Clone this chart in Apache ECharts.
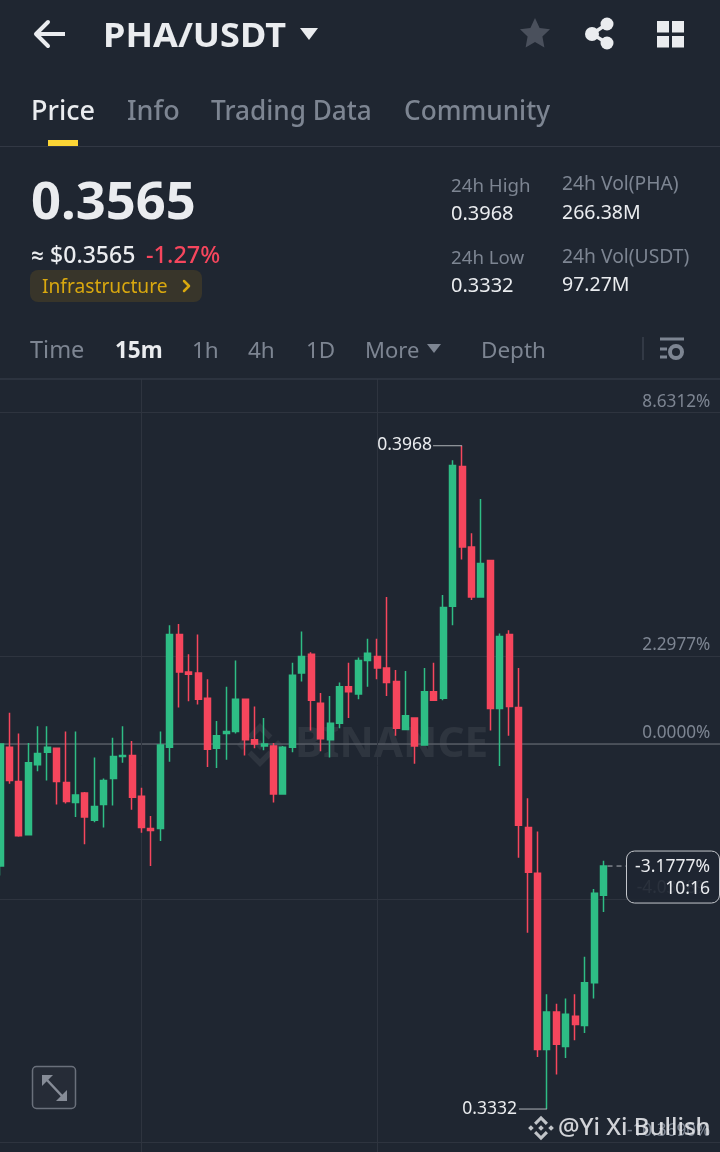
<!DOCTYPE html>
<html>
<head>
<meta charset="utf-8">
<style>
  html, body { margin: 0; padding: 0; background: #1f2631; }
  #chart { width: 720px; height: 1152px; }
</style>
<script src="https://cdn.jsdelivr.net/npm/echarts@6/dist/echarts.min.js"></script>
</head>
<body>
<div id="chart"></div>
<script>
// 15m candles
const opens = [.3565,.3679,.3646,.3595,.3662,.3674,.3678,.3645,.3626,.3635,.3609,.3624,.3649,.3670,.3671,.3632,.3601,.3601,.3679,.3787,.3751,.3750,.3726,.3678,.3692,.3694,.3725,.3686,.3680,.3680,.3634,.3679,.3750,.3768,.3721,.3686,.3702,.3737,.3730,.3762,.3766,.3755,.3742,.3696,.3707,.3681,.3732,.3726,.3814,.3948,.3871,.3823,.3858,.3716,.3787,.3717,.3602,.3558,.3389,.3425,.3392,.3421,.3412,.3453,.3537];
const closes = [.3682,.3647,.3594,.3664,.3673,.3679,.3646,.3627,.3633,.3612,.3622,.3647,.3670,.3671,.3631,.3602,.3599,.3681,.3787,.3751,.3749,.3725,.3677,.3690,.3694,.3725,.3686,.3682,.3682,.3634,.3679,.3748,.3766,.3724,.3687,.3702,.3737,.3732,.3762,.3769,.3755,.3741,.3697,.3709,.3680,.3732,.3724,.3813,.3949,.3871,.3823,.3855,.3716,.3785,.3718,.3604,.3559,.3389,.3425,.3394,.3423,.3413,.3453,.3539,.3565];
const lows = [.3556,.3644,.3593,.3595,.3656,.3647,.3624,.3625,.3612,.3586,.3607,.3602,.3623,.3664,.3619,.3597,.3565,.3589,.3665,.3717,.3723,.3720,.3660,.3659,.3667,.3692,.3671,.3678,.3676,.3626,.3634,.3674,.3742,.3695,.3675,.3669,.3697,.3707,.3725,.3737,.3744,.3728,.3690,.3696,.3663,.3681,.3724,.3724,.3796,.3859,.3820,.3823,.3695,.3661,.3690,.3573,.3501,.3382,.3332,.3365,.3381,.3398,.3405,.3438,.3521];
const highs = [.3682,.3712,.3692,.3683,.3699,.3699,.3678,.3694,.3694,.3636,.3669,.3649,.3688,.3699,.3685,.3640,.3613,.3694,.3796,.3797,.3768,.3787,.3744,.3704,.3737,.3762,.3725,.3718,.3707,.3683,.3680,.3760,.3790,.3770,.3731,.3728,.3741,.3760,.3765,.3783,.3783,.3823,.3753,.3752,.3707,.3755,.3760,.3825,.3954,.3968,.3884,.3917,.3858,.3788,.3791,.3755,.3630,.3598,.3442,.3433,.3438,.3442,.3478,.3543,.3570];

const gridPrices = [0.4000, 0.37666, 0.3682, 0.35334, 0.33005];
const gridLabels = ['8.6312%', '2.2977%', '0.0000%', '-4.0358%', '-10.3690%'];
const basePrice = 0.3682;
const timeLines = [15, 40]; // candle index of the two vertical grid lines

const dayHigh = 0.3968, dayLow = 0.3332;
const lastPct = '-3.1777%', countdown = '10:16';

const slotCount = 77; // empty slots to the right of the last candle
const categories = Array.from({ length: slotCount }, (_, i) => String(i));
const candles = opens.map((o, i) => [o, closes[i], lows[i], highs[i]]);

const UP = '#2ebd85', DOWN = '#f6465d';
const FONT = '"Noto Sans", Roboto, sans-serif';
const GREY = '#7d8592', WHITE = '#eaecef';

function txt(x, y, text, size, fill, weight, align, scaleX) {
  return {
    type: 'text', x: x, y: y + 1.5, z: 20, scaleX: scaleX || 1,
    style: {
      text: text, fontSize: size, fill: fill, fontFamily: FONT,
      fontWeight: weight || 400, align: align || 'left', verticalAlign: 'middle'
    }
  };
}
function rule(x1, y1, x2, y2, color, width, dash) {
  return {
    type: 'line', z: 20,
    shape: { x1: x1, y1: y1, x2: x2, y2: y2 },
    style: { stroke: color, lineWidth: width || 1, lineDash: dash }
  };
}
function poly(points, fill) {
  return { type: 'polygon', z: 20, shape: { points: points }, style: { fill: fill } };
}
function stroke(points, color, width) {
  return {
    type: 'polyline', z: 20, shape: { points: points },
    style: { stroke: color, lineWidth: width, fill: 'none', lineCap: 'round', lineJoin: 'round' }
  };
}
function diamondLogo(cx, cy, s, color, z) {
  const d = (x, y, r) => ({
    type: 'polygon', z: z,
    shape: { points: [[cx + x * s, cy + y * s - r * s], [cx + x * s + r * s, cy + y * s], [cx + x * s, cy + y * s + r * s], [cx + x * s - r * s, cy + y * s]] },
    style: { fill: color }
  });
  const chev = (pts) => ({
    type: 'polyline', z: z,
    shape: { points: pts.map(p => [cx + p[0] * s, cy + p[1] * s]) },
    style: { stroke: color, lineWidth: 0.22 * s, fill: 'none' }
  });
  return [
    d(0, 0, 0.2), d(-0.72, 0, 0.2), d(0.72, 0, 0.2),
    chev([[-0.42, -0.3], [0, -0.72], [0.42, -0.3]]),
    chev([[-0.42, 0.3], [0, 0.72], [0.42, 0.3]])
  ];
}

// header, tabs and stats around the chart
const chrome = [
  stroke([[48, 22], [36, 34], [48, 46]], WHITE, 4),
  rule(37, 34, 65, 34, WHITE, 4),
  txt(103, 35.5, 'PHA/USDT', 34, WHITE, 700, 'left', 1.06),
  poly([[300, 28], [318, 28], [309, 40]], WHITE),
  poly([[535, 18], [539.6, 28], [550, 29.2], [542.4, 36.5], [544.4, 47.5], [535, 42], [525.6, 47.5], [527.6, 36.5], [520, 29.2], [530.4, 28]], '#4a505c'),
  { type: 'circle', z: 20, shape: { cx: 592, cy: 34, r: 7 }, style: { fill: WHITE } },
  { type: 'circle', z: 20, shape: { cx: 607, cy: 24, r: 6.5 }, style: { fill: WHITE } },
  { type: 'circle', z: 20, shape: { cx: 607, cy: 43, r: 6.5 }, style: { fill: WHITE } },
  rule(592, 34, 607, 24, WHITE, 3.5), rule(592, 34, 607, 43, WHITE, 3.5)
];
[[657, 21], [672, 21], [657, 36], [672, 36]].forEach(p => {
  chrome.push({ type: 'rect', z: 20, shape: { x: p[0], y: p[1], width: 12, height: 11.5 }, style: { fill: WHITE } });
});
chrome.push(
  txt(31, 111, 'Price', 27, WHITE, 500),
  txt(127, 111, 'Info', 27, GREY, 500),
  txt(211, 111, 'Trading Data', 26.2, GREY, 500),
  txt(404, 111, 'Community', 26.2, GREY, 500),
  { type: 'rect', z: 20, shape: { x: 48, y: 140, width: 30, height: 6 }, style: { fill: '#fcd535' } },
  rule(0, 146.5, 720, 146.5, '#323844'),
  txt(31, 203, '0.3565', 52.5, WHITE, 700),
  txt(31, 255, '≈ $0.3565', 23, WHITE, 500),
  txt(146, 255, '-1.27%', 23.5, DOWN, 500),
  { type: 'rect', z: 20, shape: { x: 30, y: 270, width: 172, height: 32, r: 8 }, style: { fill: '#38352a' } },
  txt(42, 286, 'Infrastructure', 19.2, '#d9a80f'),
  stroke([[184, 281], [189, 286], [184, 291]], '#d9a80f', 2.5),
  txt(451, 185, '24h High', 18.7, GREY),
  txt(451, 213, '0.3968', 20, WHITE),
  txt(562, 183, '24h Vol(PHA)', 19.3, GREY),
  txt(562, 212, '266.38M', 19.5, WHITE),
  txt(451, 257, '24h Low', 18.7, GREY),
  txt(451, 285, '0.3332', 20, WHITE),
  txt(562, 256, '24h Vol(USDT)', 19.3, GREY),
  txt(562, 284, '97.27M', 19.5, WHITE),
  txt(30, 350, 'Time', 23.5, GREY),
  txt(115, 350, '15m', 22.5, WHITE, 700),
  txt(192, 350, '1h', 22.5, GREY),
  txt(248, 350, '4h', 22.5, GREY),
  txt(306, 350, '1D', 22.5, GREY),
  txt(365, 350, 'More', 22, GREY),
  poly([[427, 344], [441, 344], [434, 353]], GREY),
  txt(481, 350, 'Depth', 22.5, GREY),
  rule(643, 337, 643, 360, '#3a404c', 1.5),
  rule(660, 339, 684, 339, GREY, 3),
  rule(660, 349, 667, 349, GREY, 3),
  rule(660, 357, 667, 357, GREY, 3),
  { type: 'circle', z: 20, shape: { cx: 676, cy: 352, r: 6 }, style: { fill: '#1f2631', stroke: GREY, lineWidth: 4 } },
  rule(0, 379, 720, 379, '#323844', 1.5),
  // expand button
  { type: 'rect', z: 20, shape: { x: 32.5, y: 1066.5, width: 43, height: 42, r: 4 }, style: { fill: 'rgba(255,255,255,0.03)', stroke: '#6a707b', lineWidth: 1.5 } },
  rule(47, 1080, 62, 1096, '#868c97', 2.5),
  poly([[42, 1075], [53, 1075], [42, 1086]], '#868c97'),
  poly([[67, 1101], [56, 1101], [67, 1090]], '#868c97'),
  // author watermark
  txt(558, 1127, '@Yi Xi Bullish', 24, 'rgba(234,236,239,0.88)', 500)
);
chrome.push(...diamondLogo(541, 1128, 14, 'rgba(234,236,239,0.8)', 20));

// faint watermark behind the candles
const background = [
  { type: 'text', x: 295, y: 745, z: 1, silent: true, scaleX: 1.03,
    style: { text: 'BINANCE', fontSize: 41, fontWeight: 700, fontFamily: FONT, fill: 'rgba(255,255,255,0.07)', verticalAlign: 'middle' } }
].concat(diamondLogo(260, 745, 25, 'rgba(255,255,255,0.07)', 1));

const chart = echarts.init(document.getElementById('chart'));
const option = {
  animation: false,
  backgroundColor: '#1f2631',
  grid: { left: -4.7, right: -1.4, top: 379, bottom: 0, outerBoundsMode: 'none' },
  xAxis: {
    type: 'category', data: categories, boundaryGap: true,
    axisLine: { show: false }, axisTick: { show: false }, axisLabel: { show: false },
    splitLine: { show: false }
  },
  yAxis: {
    type: 'value', position: 'right', scale: true, min: 0.32908, max: 0.4032,
    axisLine: { show: false },
    axisTick: { show: false, customValues: gridPrices },
    axisLabel: {
      inside: true, customValues: gridPrices, margin: 11, color: GREY,
      fontSize: 17.2, fontFamily: FONT, verticalAlign: 'bottom', padding: [0, 0, 2, 0],
      formatter: v => gridLabels[gridPrices.indexOf(v)]
    },
    splitLine: { show: true, lineStyle: { color: '#2e343f', width: 1 } }
  },
  series: [{
    type: 'candlestick',
    data: candles,
    barWidth: 6.5,
    z: 5,
    itemStyle: { color: UP, color0: DOWN, borderColor: UP, borderColor0: DOWN, borderWidth: 1.5 },
    markLine: {
      silent: true, symbol: 'none', z: 2, animation: false, precision: 4,
      label: { show: false },
      data: [
        { yAxis: basePrice, lineStyle: { color: '#565b64', width: 1.5, type: 'solid' } }
      ].concat(timeLines.map(i => ({ xAxis: i, lineStyle: { color: '#2e343f', width: 1, type: 'solid' } })))
    }
  }],
  graphic: { elements: background.concat(chrome) }
};
chart.setOption(option);

// callouts hang off the candles, so place them through the axes
const hiIdx = highs.indexOf(dayHigh), loIdx = lows.indexOf(dayLow), lastIdx = closes.length - 1;
const hiPt = chart.convertToPixel({ seriesIndex: 0 }, [hiIdx, dayHigh]);
const loPt = chart.convertToPixel({ seriesIndex: 0 }, [loIdx, dayLow]);
const lastPt = chart.convertToPixel({ seriesIndex: 0 }, [lastIdx, closes[lastIdx]]);
const boxX = 626, boxW = 93, boxH = 52;
const callouts = [
  rule(hiPt[0] - 29, hiPt[1], hiPt[0], hiPt[1], '#aeb2b8', 1),
  txt(hiPt[0] - 30, hiPt[1] - 2, String(dayHigh), 17.5, WHITE, 400, 'right'),
  rule(loPt[0] - 28, loPt[1], loPt[0], loPt[1], '#aeb2b8', 1),
  txt(loPt[0] - 30, loPt[1] - 2, String(dayLow), 17.5, WHITE, 400, 'right'),
  rule(lastPt[0] + 4, lastPt[1], boxX, lastPt[1], '#aeb2b8', 1, [5, 4]),
  { type: 'rect', z: 19, shape: { x: boxX + 0.5, y: lastPt[1] - 15, width: boxW, height: boxH, r: 8 },
    style: { fill: 'rgba(31,38,49,0.88)', stroke: '#c4c7cc', lineWidth: 1 } },
  txt(710, lastPt[1] - 0.5, lastPct, 17.5, WHITE, 400, 'right'),
  txt(710, lastPt[1] + 21.5, countdown, 17.5, WHITE, 400, 'right')
];
chart.setOption({ graphic: { elements: option.graphic.elements.concat(callouts) } });
</script>
</body>
</html>
